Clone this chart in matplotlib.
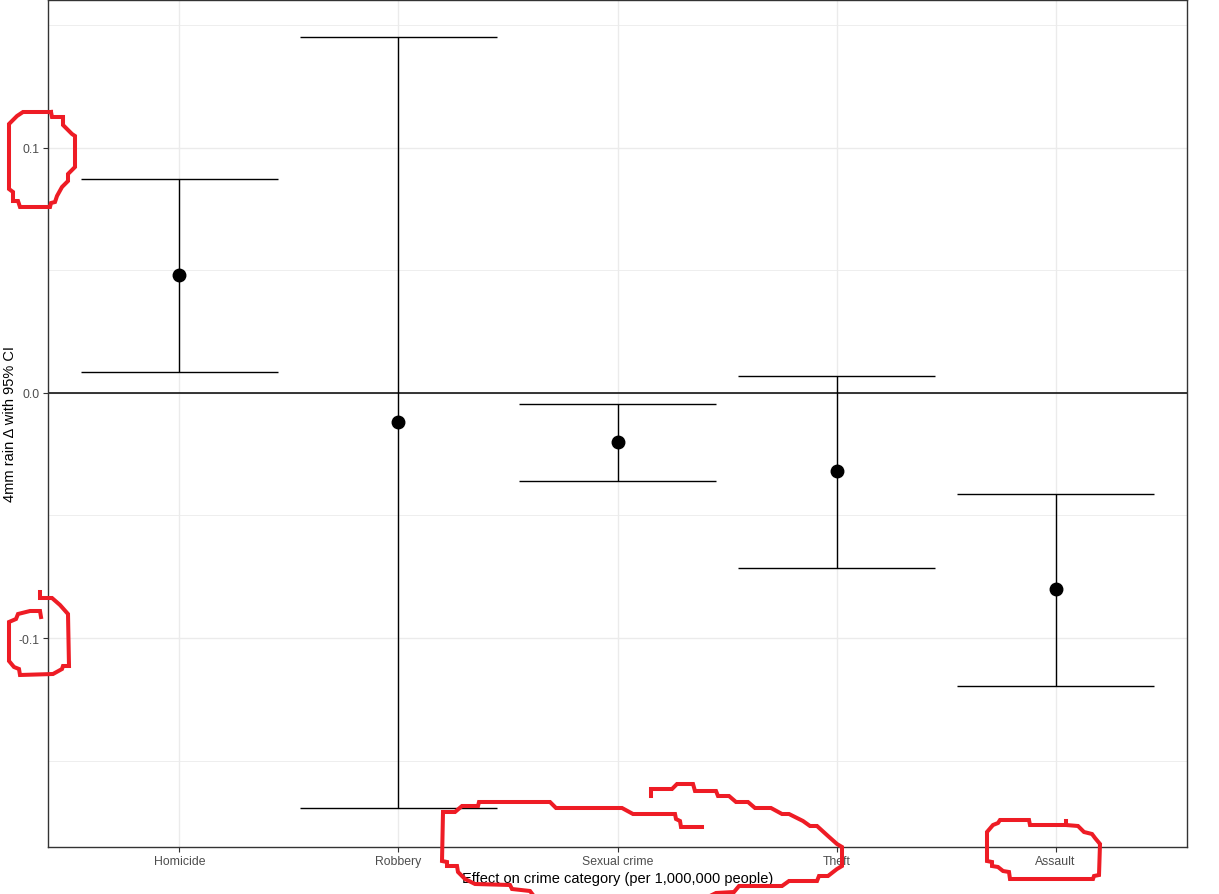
import matplotlib.pyplot as plt
from matplotlib.lines import Line2D
from matplotlib.transforms import Affine2D

plt.rcParams['font.family'] = ['Liberation Sans', 'DejaVu Sans']

# effect estimates and 95% CI bounds per crime category
categories = ["Homicide", "Robbery", "Sexual crime", "Theft", "Assault"]
estimate = [0.0482, -0.0118, -0.0200, -0.0318, -0.0800]
ci_low = [0.0086, -0.1694, -0.0359, -0.0714, -0.1196]
ci_high = [0.0873, 0.1453, -0.0045, 0.0069, -0.0412]

# freehand red outlines marked on top of the chart (pixel coords, y down)
markup = [
    [(51, 113), (52, 118), (63, 118), (63, 126), (72, 135), (75, 137), (75, 168),
     (68, 175), (68, 182), (62, 188), (57, 197), (55, 203), (51, 204), (50, 208),
     (20, 208), (18, 202), (13, 202), (13, 193), (9, 190), (9, 125), (17, 117),
     (23, 113), (51, 113)],
    [(40, 593), (40, 599), (52, 599), (60, 606), (68, 615), (69, 667), (63, 667),
     (62, 670), (53, 675), (20, 676), (19, 670), (14, 668), (9, 662), (9, 623),
     (16, 620), (18, 615), (30, 612), (40, 612), (41, 618)],
    [(702, 828), (681, 828), (680, 822), (676, 820), (675, 815), (633, 815),
     (622, 809), (556, 809), (550, 803), (479, 803), (478, 807), (462, 807),
     (455, 813), (443, 813), (442, 862), (447, 863), (447, 867), (457, 867),
     (458, 873), (465, 880), (475, 885), (510, 886), (512, 890), (530, 892),
     (533, 896)],
    [(651, 797), (651, 790), (672, 790), (677, 785), (693, 785), (695, 792),
     (716, 792), (718, 797), (729, 797), (736, 803), (748, 803), (755, 809),
     (771, 809), (782, 815), (789, 815), (803, 822), (810, 827), (817, 827),
     (828, 837), (837, 845), (842, 848), (842, 867), (837, 870), (828, 877),
     (819, 877), (817, 882), (789, 882), (782, 887), (739, 887), (734, 893),
     (716, 894), (712, 896)],
    [(1066, 822), (1066, 826), (1030, 826), (1029, 821), (1000, 821), (998, 824),
     (993, 826), (987, 833), (987, 862), (992, 863), (992, 867), (998, 868),
     (1003, 872), (1009, 873), (1010, 880), (1093, 880), (1094, 877), (1099, 876),
     (1100, 845), (1095, 839), (1092, 835), (1084, 833), (1078, 827), (1066, 826)],
]

W, H = 1219, 895
fig = plt.figure(figsize=(W / 100, H / 100), dpi=100)
ax = fig.add_axes([48 / W, 47 / H, 1139 / W, 847.5 / H])

x = list(range(1, len(categories) + 1))
err_lo = [e - lo for e, lo in zip(estimate, ci_low)]
err_hi = [hi - e for e, hi in zip(estimate, ci_high)]

ax.axhline(0, color="black", lw=1.1, zorder=2)
ax.errorbar(x, estimate, yerr=[err_lo, err_hi], fmt="none", ecolor="black",
            elinewidth=1.0, capsize=0, zorder=3)
# wide horizontal caps (0.9 category units)
ax.hlines(ci_low, [i - 0.45 for i in x], [i + 0.45 for i in x], color="black", lw=1.0, zorder=3)
ax.hlines(ci_high, [i - 0.45 for i in x], [i + 0.45 for i in x], color="black", lw=1.0, zorder=3)
ax.plot(x, estimate, "o", color="black", ms=9, zorder=4)

ax.set_xlim(0.4, 5.6)
ax.set_ylim(-0.1853, 0.1606)
ax.set_xticks(x)
ax.set_xticklabels(categories)
ax.set_yticks([-0.1, 0.0, 0.1])
ax.set_yticklabels(["-0.1", "0.0", "0.1"])
ax.set_yticks([-0.15, -0.05, 0.05, 0.15], minor=True)

ax.grid(True, which="major", color="#EBEBEB", lw=1.0, zorder=0)
ax.grid(True, which="minor", axis="y", color="#EBEBEB", lw=0.6, zorder=0)
ax.set_axisbelow(True)
ax.tick_params(axis="both", which="major", length=3.5, width=0.8, color="#333333",
               labelcolor="#4D4D4D", labelsize=8.8, pad=2.5)
ax.tick_params(axis="both", which="minor", length=0)
for s in ax.spines.values():
    s.set_color("#333333")
    s.set_linewidth(1.0)

ax.set_xlabel("Effect on crime category (per 1,000,000 people)", fontsize=10.5, labelpad=3)
ax.set_ylabel("4mm rain \u0394 with 95% CI", fontsize=10.5, labelpad=1.5)

to_px = Affine2D().scale(1, -1).translate(0, H)
for path in markup:
    xs = [p[0] for p in path]
    ys = [p[1] for p in path]
    fig.add_artist(Line2D(xs, ys, color="#EE1C25", lw=2.9, solid_joinstyle="miter",
                          transform=to_px))

fig.savefig("out.png", dpi=100)
